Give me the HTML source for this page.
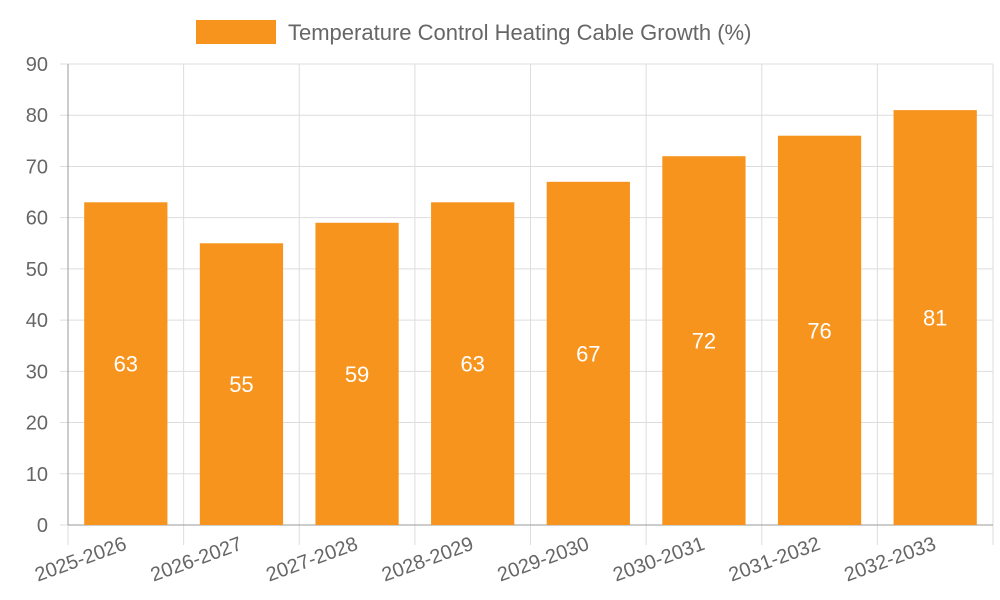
<!DOCTYPE html>
<html><head><meta charset="utf-8"><style>
html,body{margin:0;padding:0;background:#fff;width:1000px;height:600px;overflow:hidden;font-family:"Liberation Sans",sans-serif;}
</style></head><body>
<svg id="chart" width="1000" height="600" xmlns="http://www.w3.org/2000/svg" font-family="Liberation Sans, sans-serif"></svg>
<script>
const categories=["2025-2026","2026-2027","2027-2028","2028-2029","2029-2030","2030-2031","2031-2032","2032-2033"];
const values=[63,55,59,63,67,72,76,81];
const yTicks=[0,10,20,30,40,50,60,70,80,90];
const seriesName="Temperature Control Heating Cable Growth (%)";
const NS="http://www.w3.org/2000/svg";
const svg=document.getElementById('chart');
const L=68,R=993,T=64,B=525,yMax=90;
const y=v=>B-(v/yMax)*(B-T);
const band=(R-L)/categories.length;
const x=i=>L+i*band;
function mk(tag,attrs,parent){const e=document.createElementNS(NS,tag);for(const k in attrs)e.setAttribute(k,attrs[k]);(parent||svg).appendChild(e);return e;}
// legend
const lg=mk('g',{});


const lb=mk('rect',{x:196,y:20,width:80,height:24,fill:'#F7941D'},lg);


const lt=mk('text',{x:288,y:40,'font-size':22,fill:'#666'},lg);lt.textContent=seriesName;


// y grid & ticks
yTicks.forEach(t=>{
  const g=mk('line',{x1:60,x2:R,y1:y(t),y2:y(t),stroke:'#ddd','stroke-width':1});
  
  
  const tx=mk('text',{x:48,y:y(t)+7,'font-size':20,fill:'#666','text-anchor':'end'});
  tx.textContent=t;
  
  
});
// x grid
for(let i=0;i<=categories.length;i++){
  const g=mk('line',{x1:x(i),x2:x(i),y1:T,y2:B+20,stroke:'#ddd','stroke-width':1});
  
  
}
// axes
const ax=mk('line',{x1:L,x2:L,y1:T,y2:B,stroke:'#999','stroke-width':1});


const axx=mk('line',{x1:L,x2:R,y1:B,y2:B,stroke:'#999','stroke-width':1});


// bars
const bw=band*0.72;
values.forEach((v,i)=>{
  const cx=x(i)+band/2;
  const r=mk('rect',{x:cx-bw/2,y:y(v),width:bw,height:B-y(v),fill:'#F7941D'});
  
  
  const vt=mk('text',{x:cx,y:(y(v)+B)/2+8,'font-size':22,fill:'#fff','text-anchor':'middle'});
  vt.textContent=v;
  
  
  const xt=mk('text',{x:cx+2,y:B+24,'font-size':20,fill:'#666','text-anchor':'end',transform:`rotate(-20 ${cx+2} ${B+24})`});
  xt.textContent=categories[i];
  
  
});
</script>
</body></html>
